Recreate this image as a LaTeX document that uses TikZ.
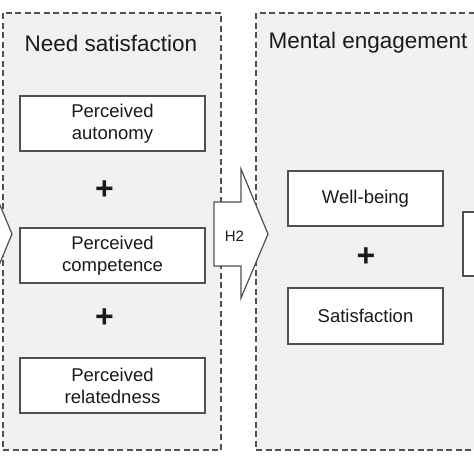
\documentclass[tikz,border=0pt]{standalone}
\usepackage{fontspec}
\setmainfont{Liberation Sans}
\definecolor{panelfill}{HTML}{F1F1F1}
\definecolor{linegray}{HTML}{505050}
\definecolor{txt}{HTML}{1A1A1A}
\begin{document}
\begin{tikzpicture}[x=1pt,y=-1pt,
  panel/.style={draw=linegray, fill=panelfill, line width=1.3pt, dash pattern=on 6pt off 3.5pt},
  title/.style={text=txt, font=\fontsize{22.5}{26}\selectfont, inner sep=0pt},
  box/.style={draw=linegray, fill=white, line width=1.3pt, text=txt, align=center,
    font=\fontsize{18.5}{22}\selectfont, inner sep=0pt},
  plus/.style={text=txt, font=\fontsize{32}{32}\selectfont, inner sep=0pt},
  blockarrow/.style={draw=linegray, fill=white, line width=1.2pt, line join=miter},
  lbl/.style={text=txt, font=\fontsize{15}{18}\selectfont, inner sep=0pt}]
\useasboundingbox (0,0) rectangle (474,474);
\clip (0,0) rectangle (474,474);
\fill[white] (0,0) rectangle (474,474);
% panels
\draw[panel] (3,13) rectangle (221,450);
\draw[panel] (256,13) rectangle (484,450);
\node[title] (t1) at (111,43) {Need satisfaction};
\node[title] (t2) at (368,43) {Mental engagement};
% left boxes
\node[box, minimum width=185pt, minimum height=55pt] (pa) at (112.5,123.5) {Perceived\\autonomy};
\node[plus] (p1) at (104.5,190) {\textbf{+}};
\node[box, minimum width=185pt, minimum height=55pt] (pc) at (112.5,255.5) {Perceived\\competence};
\node[plus] (p2) at (104.5,318) {\textbf{+}};
\node[box, minimum width=185pt, minimum height=55pt] (pr) at (112.5,385.5) {Perceived\\relatedness};
% right boxes
\node[box, minimum width=155pt, minimum height=55pt] (wb) at (365.5,198.5) {Well-being};
\node[plus] (p3) at (366,257) {\textbf{+}};
\node[box, minimum width=155pt, minimum height=56pt] (sa) at (365.5,316) {Satisfaction};
\node[box, minimum width=60pt, minimum height=64pt] (rx) at (493,244) {};
% block arrows
\draw[blockarrow] (-40,208) -- (-15,208) -- (-15,169) -- (12,234) -- (-15,299) -- (-15,262) -- (-40,262) -- cycle;
\draw[blockarrow] (214,202) -- (241,202) -- (241,169) -- (268,234) -- (241,298) -- (241,266) -- (214,266) -- cycle;
\node[lbl] (h2) at (234.5,236) {H2};
\end{tikzpicture}
\end{document}
